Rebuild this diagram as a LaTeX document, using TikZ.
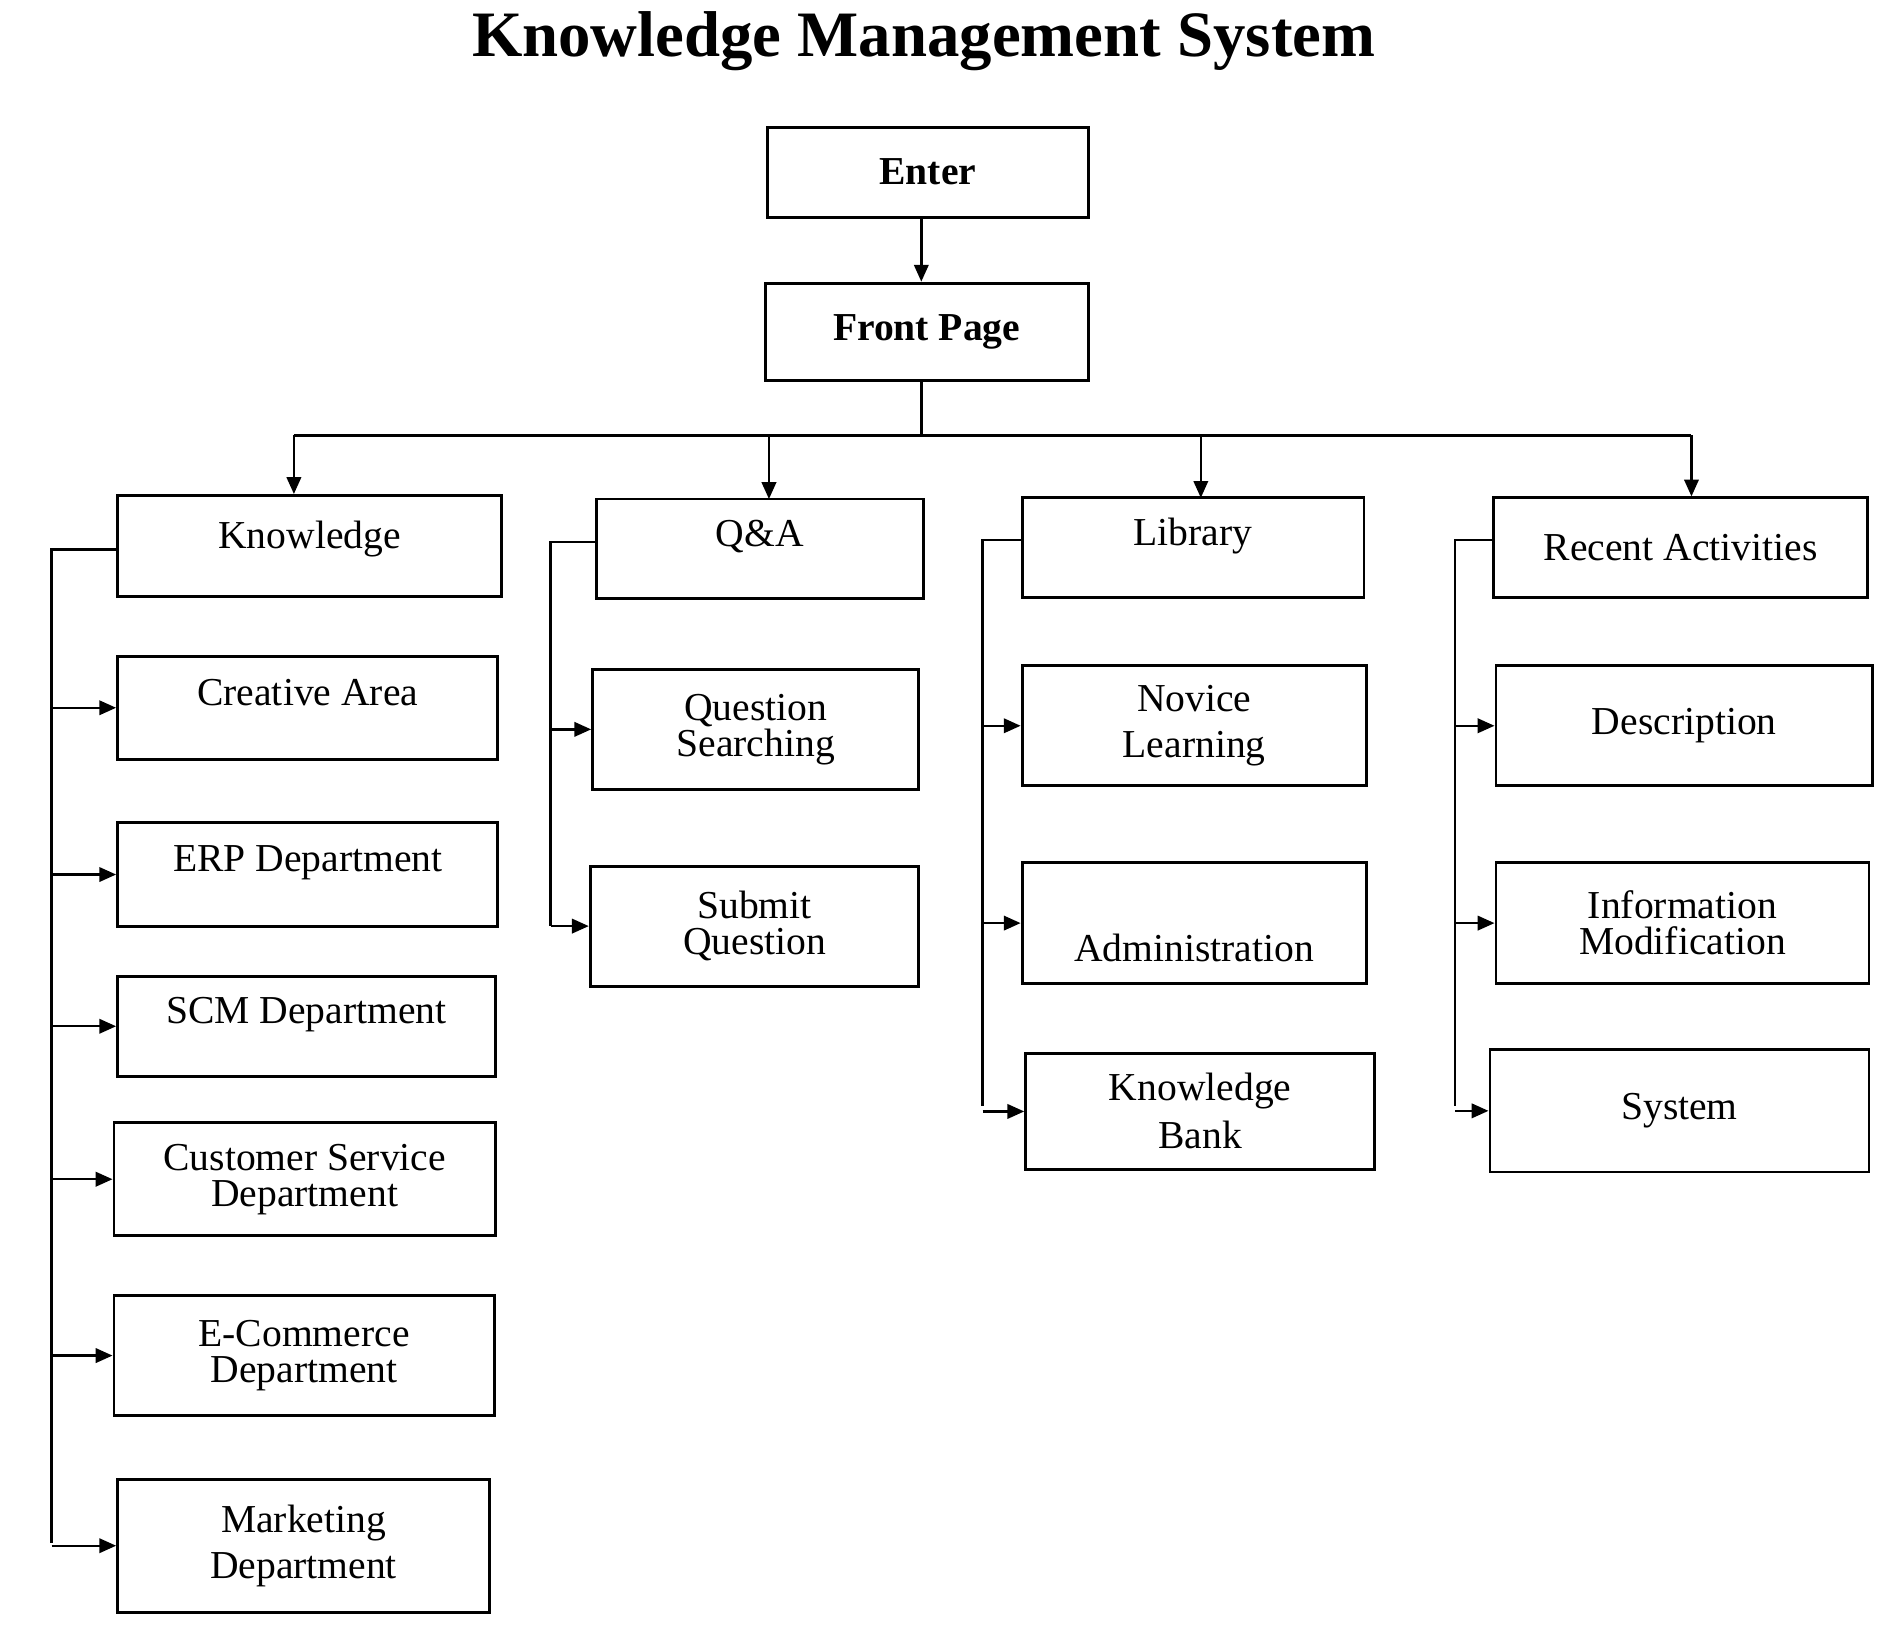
\documentclass[tikz,border=0pt]{standalone}
\usepackage{fontspec}
\setmainfont{Liberation Serif}
\usetikzlibrary{arrows.meta}
\begin{document}
\begin{tikzpicture}[x=0.5pt,y=-0.5pt,
  box/.style={draw,line width=1.2pt,inner sep=0pt,align=center,font=\fontsize{16.5}{15}\selectfont},
  con/.style={line width=1pt},
  arr/.style={line width=1pt,-{Triangle[length=7pt,width=6pt]}}]
\useasboundingbox (0,0) rectangle (1568,1363);
\newcommand\bx[6]{\node[box,minimum width={(#4-#2)*0.5pt},minimum height={(#5-#3)*0.5pt}] (#1) at ({(#2+#4)/2},{(#3+#5)/2}) {#6};}
\node[font=\fontsize{27}{29}\selectfont\bfseries,inner sep=0pt] (title) at (770,34) {Knowledge Management System};
\bx{enter}{640}{106}{907}{181}{\textbf{Enter}}
\bx{front}{638}{236}{907}{317}{\textbf{Front Page}}
\bx{kg}{98}{413}{418}{497}{Knowledge\\[-6pt]\phantom{x}}
\bx{ca}{98}{547}{415}{633}{Creative Area\\[-2pt]\phantom{x}}
\bx{erp}{98}{686}{415}{772}{ERP Department\\[-2pt]\phantom{x}}
\bx{scm}{98}{814}{413}{897}{SCM Department\\[-2pt]\phantom{x}}
\bx{cs}{95}{936}{413}{1030}{Customer Service\\Department}
\bx{ec}{95}{1080}{412}{1180}{E-Commerce\\Department}
\bx{mk}{98}{1233}{408}{1344}{Marketing\\[4pt]Department}
\bx{qa}{497}{416}{770}{499}{Q\&A\\[-2pt]\phantom{x}}
\bx{qs}{494}{558}{766}{658}{Question\\Searching}
\bx{sq}{492}{722}{766}{822}{Submit\\Question}
\bx{lib}{852}{415}{1137}{498}{Library\\[-2pt]\phantom{x}}
\bx{nl}{852}{555}{1139}{655}{Novice\\[4pt]Learning}
\bx{adm}{852}{719}{1139}{820}{\phantom{x}\\[10pt]Administration}
\bx{kb}{855}{878}{1146}{975}{Knowledge\\[4pt]Bank}
\bx{ra}{1245}{415}{1557}{498}{Recent Activities}
\bx{desc}{1247}{555}{1561}{655}{Description}
\bx{im}{1247}{719}{1558}{820}{Information\\Modification}
\bx{sys}{1242}{875}{1558}{977}{System}
% top
\coordinate (bus) at (768,363);
\coordinate (busL) at (245,363);
\coordinate (busR) at (1410,363);
\draw[arr] (bus |- enter.south) -- (bus |- front.north);
\draw[con] (bus |- front.south) -- (bus);
\draw[con] (busL) -- (busR);
\draw[arr] (busL) -- (busL |- kg.north);
\draw[arr] (641,363) -- (641,416);
\draw[arr] (1001,363) -- (1001,415);
\draw[arr] (busR) -- (busR |- ra.north);
% column 1
\coordinate (s1t) at (43,458);
\coordinate (s1b) at (43,1286);
\draw[con] (kg.west |- s1t) -- (s1t) -- (s1b);
\foreach \n in {ca,erp,scm,cs,ec,mk} \draw[arr] (s1t |- \n.west) -- (\n.west);
% column 2
\coordinate (s2t) at (459,452);
\coordinate (s2b) at (459,772);
\draw[con] (qa.west |- s2t) -- (s2t) -- (s2b);
\foreach \n in {qs,sq} \draw[arr] (s2t |- \n.west) -- (\n.west);
% column 3
\coordinate (s3t) at (819,450);
\coordinate (s3b) at (819,922);
\draw[con] (lib.west |- s3t) -- (s3t) -- (s3b);
\foreach \n in {nl,adm,kb} \draw[arr] (s3t |- \n.west) -- (\n.west);
% column 4
\coordinate (s4t) at (1213,450);
\coordinate (s4b) at (1213,922);
\draw[con] (ra.west |- s4t) -- (s4t) -- (s4b);
\foreach \n in {desc,im,sys} \draw[arr] (s4t |- \n.west) -- (\n.west);
\end{tikzpicture}
\end{document}
